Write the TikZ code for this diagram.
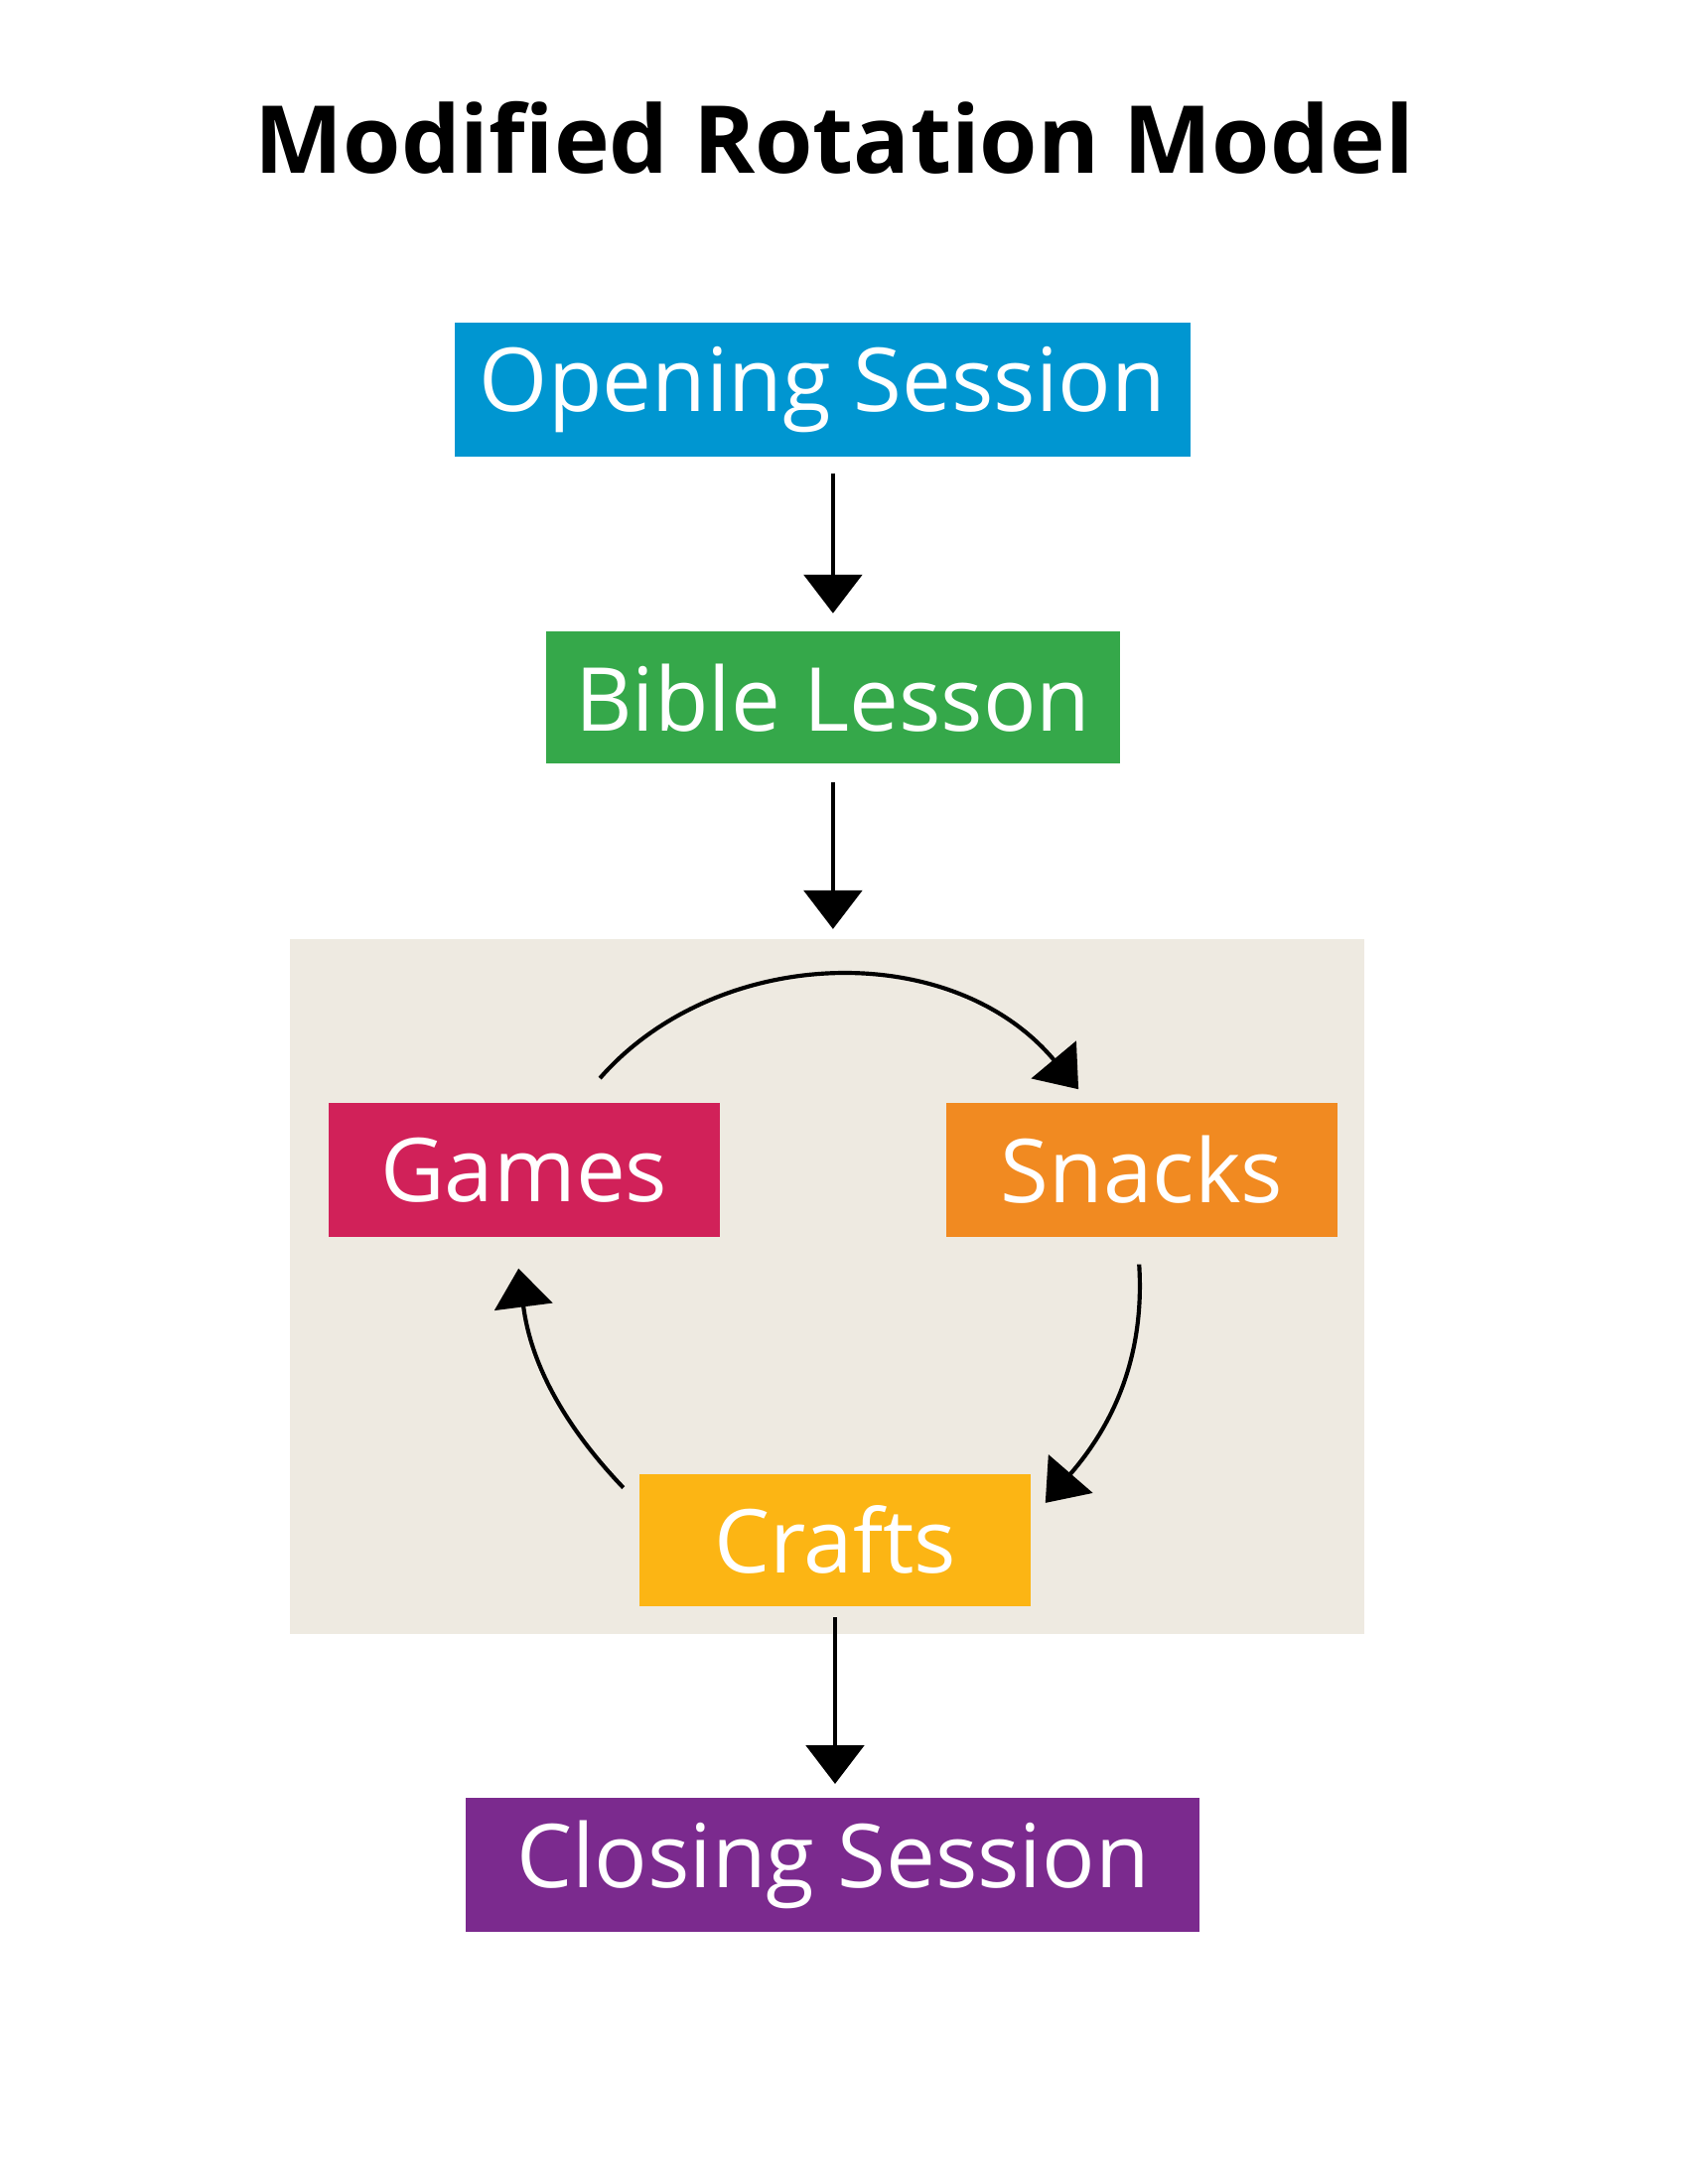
\documentclass[tikz,border=0pt]{standalone}
\usepackage{fontspec}
\setmainfont{Open Sans}
\usetikzlibrary{arrows.meta,positioning}
\definecolor{openblue}{HTML}{0096D1}
\definecolor{biblegreen}{HTML}{35A84A}
\definecolor{gamesred}{HTML}{D12159}
\definecolor{snacksorange}{HTML}{F18A21}
\definecolor{craftsyellow}{HTML}{FCB514}
\definecolor{closepurple}{HTML}{7B2A8E}
\definecolor{backbeige}{HTML}{EEEAE1}
\begin{document}
\begin{tikzpicture}[x=1pt,y=-1pt,
    box/.style={inner sep=0pt, text=white, font=\fontsize{64}{66}\selectfont},
    flow/.style={line width=3pt, -{Triangle[length=28pt,width=42pt]}}]
		\useasboundingbox (0,0) rectangle (1224,1584);

		% Title
		\node (title) at (605,100) {\fontsize{68}{70}\selectfont\bfseries Modified Rotation Model};

		% Beige background of the rotation
		\fill[backbeige] (210,681) rectangle (989,1185);

		% The session boxes
		\node[box, fill=openblue, minimum width=533pt, minimum height=97pt] (opening) at (596.5,282.5) {Opening Session};
		\node[box, fill=biblegreen, minimum width=416pt, minimum height=96pt] (bible) at (604,506) {Bible Lesson};
		\node[box, fill=gamesred, minimum width=284pt, minimum height=97pt] (games) at (380,848.5) {Games};
		\node[box, fill=snacksorange, minimum width=284pt, minimum height=97pt] (snacks) at (828,848.5) {Snacks};
		\node[box, fill=craftsyellow, minimum width=283pt, minimum height=96pt] (crafts) at (605.5,1117) {Crafts};
		\node[box, fill=closepurple, minimum width=532pt, minimum height=97pt] (closing) at (604,1352.5) {Closing Session};

		% Straight arrows
		\draw[flow, shorten <=12pt, shorten >=13pt] (opening.south -| bible.north) -- (bible.north);
		\draw[flow, shorten <=13pt, shorten >=126pt] (bible.south) -- (bible.south |- games.north);
		\draw[flow, shorten <=8pt, shorten >=10pt] (crafts.south) -- (crafts.south |- closing.north);

		% Curved arrows of the rotation
		\coordinate (gamesout) at (435,782);
		\coordinate (snacksin) at (782,790);
		\coordinate (snacksout) at (826,917);
		\coordinate (craftsin) at (758,1090);
		\coordinate (craftsout) at (452,1079);
		\coordinate (gamesin) at (376,920);
		\draw[flow] (gamesout) .. controls (520,685) and (690,680) .. (snacksin);
		\draw[flow] (snacksout) .. controls (830,980) and (810,1030) .. (craftsin);
		\draw[flow] (craftsout) .. controls (410,1035) and (385,990) .. (gamesin);
	\end{tikzpicture}
\end{document}
